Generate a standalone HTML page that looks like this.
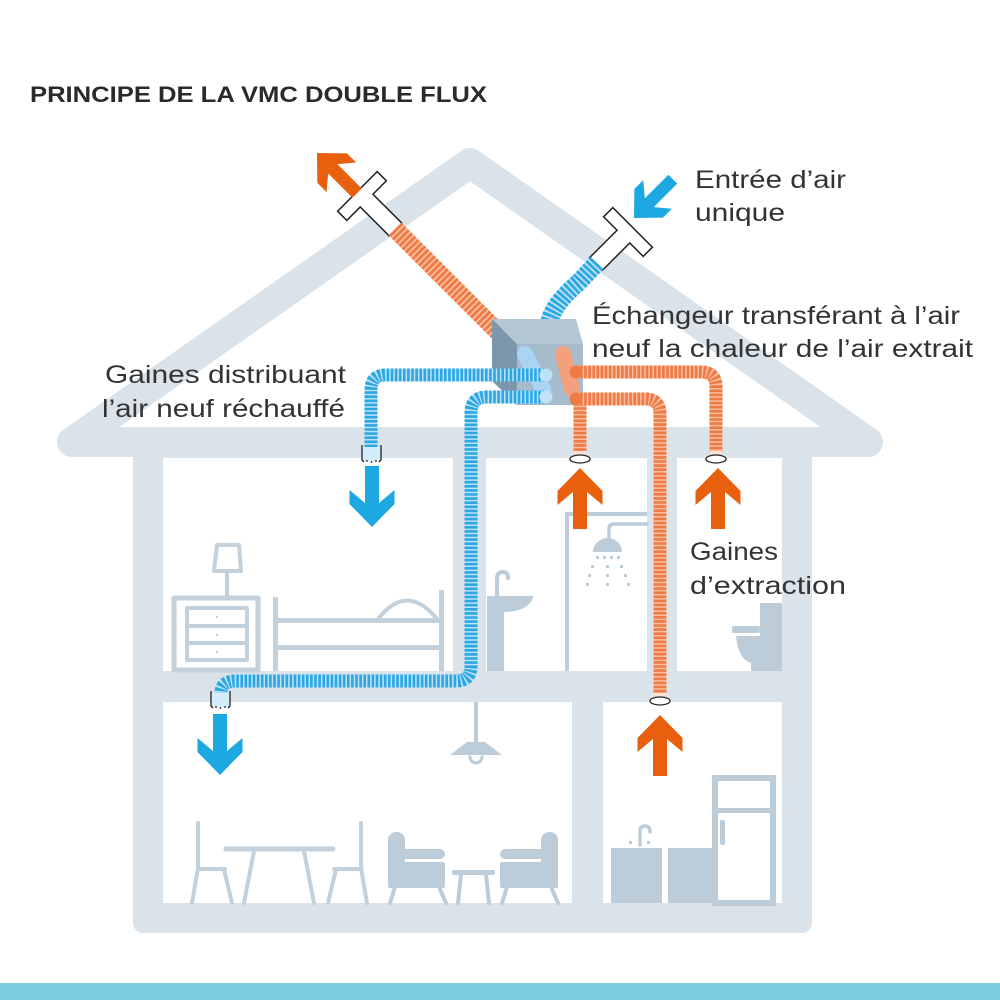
<!DOCTYPE html>
<html><head><meta charset="utf-8"><style>
html,body{margin:0;padding:0;background:#fff;}
svg{display:block;}
</style></head><body>
<svg width="1000" height="1000" viewBox="0 0 1000 1000" xmlns="http://www.w3.org/2000/svg">
<rect width="1000" height="1000" fill="#fff"/>

<!-- House structure -->
<polygon points="72,442 470,163 868,442" fill="none" stroke="#dae3ea" stroke-width="30" stroke-linejoin="round"/>
<rect x="133" y="442" width="679" height="491" rx="10" fill="#dae3ea"/>
<rect x="163" y="458" width="290" height="213" fill="#fff"/>
<rect x="486" y="458" width="161" height="213" fill="#fff"/>
<rect x="677" y="458" width="105" height="213" fill="#fff"/>
<rect x="163" y="702" width="409" height="201" fill="#fff"/>
<rect x="603" y="702" width="179" height="201" fill="#fff"/>

<!-- Bedroom furniture -->
<g fill="none" stroke="#c2d1dc" stroke-width="4" stroke-linejoin="round">
  <path d="M217,545 H239 L241,571 H214 Z"/>
  <rect x="174" y="598" width="84" height="72" stroke-width="5"/>
  <rect x="187" y="608" width="60" height="52"/>
  <path d="M187,626 H247 M187,643 H247"/>
  <path d="M378,619 Q407,582 437,619"/>
</g>
<g fill="#c2d1dc">
  <rect x="225" y="573" width="4" height="24"/>
  <rect x="273" y="597" width="5" height="74"/>
  <rect x="439" y="590" width="5" height="81"/>
  <rect x="273" y="618" width="171" height="5"/>
  <rect x="273" y="645" width="171" height="5"/>
</g>
<g fill="#e3c6c0">
  <circle cx="217" cy="617" r="1.2"/><circle cx="217" cy="635" r="1.2"/><circle cx="217" cy="652" r="1.2"/>
</g>

<!-- Bathroom -->
<g fill="#bccdd9">
  <path d="M487,596 H533 C532,606 520,612 504,612 V671 H487 Z"/>
  <rect x="565" y="512" width="4" height="159"/>
  <rect x="565" y="512" width="82" height="4"/>
  <path d="M593,552 A14.5,14 0 0 1 622,552 Z"/>
  <rect x="596" y="556" width="3" height="3"/><rect x="603" y="556" width="3" height="3"/><rect x="610" y="556" width="3" height="3"/><rect x="617" y="556" width="3" height="3"/>
  <rect x="591" y="565" width="3" height="3"/><rect x="606" y="565" width="3" height="3"/><rect x="620" y="565" width="3" height="3"/>
  <rect x="588" y="574" width="3" height="3"/><rect x="606" y="574" width="3" height="3"/><rect x="624" y="574" width="3" height="3"/>
  <rect x="586" y="583" width="3" height="3"/><rect x="606" y="583" width="3" height="3"/><rect x="627" y="583" width="3" height="3"/>
  <!-- WC -->
  <rect x="760" y="603" width="22" height="68"/>
  <rect x="732" y="626" width="28" height="7" rx="2"/>
  <path d="M736,636 H760 V671 H751 V663 Q738,659 736,636 Z"/>
</g>
<g fill="none" stroke="#bccdd9" stroke-width="4" stroke-linecap="round">
  <path d="M497,597 V579 Q497,572 503,572 Q508,572 508,578"/>
  <path d="M647,524 H614 Q609,524 609,529 V540" stroke-width="3.5"/>
</g>

<!-- Living room -->
<g fill="none" stroke="#c2d1dc" stroke-width="4" stroke-linecap="round" stroke-linejoin="round">
  <path d="M198,823 V868 L192,903"/>
  <path d="M198,869 H225"/>
  <path d="M224,869 L232,903"/>
  <path d="M361,823 V868 L367,903"/>
  <path d="M334,869 H361"/>
  <path d="M336,869 L328,903"/>
  <path d="M226,849 H333" stroke-width="5"/>
  <path d="M254,851 L244,903"/>
  <path d="M304,851 L314,903"/>
</g>
<g fill="#bccdd9">
  <rect x="388" y="832" width="17" height="56" rx="8"/>
  <rect x="388" y="849" width="57" height="10" rx="5"/>
  <rect x="388" y="862" width="57" height="26" rx="2"/>
  <rect x="541" y="832" width="17" height="56" rx="8"/>
  <rect x="500" y="849" width="58" height="10" rx="5"/>
  <rect x="500" y="862" width="58" height="26" rx="2"/>
  <rect x="452" y="870" width="43" height="5" rx="2"/>
  <rect x="474" y="702" width="4" height="40"/>
  <path d="M467,742 H485 L502,755 H450 Z"/>
  <!-- Kitchen -->
  <rect x="611" y="848" width="51" height="55"/>
  <rect x="668" y="848" width="49" height="55"/>
  <rect x="715" y="808" width="58" height="5"/>
  <rect x="720" y="820" width="5" height="25" rx="2"/>
  <rect x="629" y="841" width="3" height="3"/><rect x="647" y="841" width="3" height="3"/>
</g>
<g fill="none" stroke="#bccdd9" stroke-width="4" stroke-linecap="round">
  <path d="M395,887 L390,903 M439,887 L446,903"/>
  <path d="M507,887 L502,903 M551,887 L558,903"/>
  <path d="M461,874 L458,903 M486,874 L489,903"/>
  <path d="M470,757 A6,6 0 0 0 482,757" stroke-width="3"/>
  <rect x="715" y="778" width="58" height="125" stroke-width="6" stroke-linecap="butt"/>
  <path d="M640,845 V831 Q640,826 645,826 Q650,826 650,832" stroke-width="3.5"/>
</g>

<!-- T caps -->
<g transform="translate(362,196) rotate(-45)">
  <path d="M-9,48 V6.5 H-28 V-6.5 H28 V6.5 H9 V48" fill="#fff" stroke="#222" stroke-width="1.5" stroke-linejoin="miter"/>
</g>
<g transform="translate(628,232) rotate(45)">
  <path d="M-9,46 V6.5 H-28 V-6.5 H28 V6.5 H9 V46" fill="#fff" stroke="#222" stroke-width="1.5"/>
</g>

<!-- Diagonal ducts -->
<path d="M395,229 L500,334" fill="none" stroke="#f9bea0" stroke-width="18"/>
<path d="M395,229 L500,334" fill="none" stroke="#ee7a45" stroke-width="18" stroke-dasharray="2.8 1.8"/>
<path d="M597,263 L578,283 Q552,305 549,324" fill="none" stroke="#bfe2f6" stroke-width="18"/>
<path d="M597,263 L578,283 Q552,305 549,324" fill="none" stroke="#2ba7e4" stroke-width="18" stroke-dasharray="2.8 1.8"/>

<!-- Exchanger box -->
<polygon points="492,319 576,319 583,344 517,344" fill="#b4c7d5"/>
<rect x="517" y="344" width="66" height="61" fill="#a6bbcb"/>
<polygon points="492,319 517,344 517,405 492,381" fill="#7c97ab"/>
<path d="M525,354 L543,389" stroke="#a9d4f2" stroke-width="16" stroke-linecap="round"/>
<path d="M563,354 L572,389" stroke="#f4a07c" stroke-width="16" stroke-linecap="round"/>

<!-- Horizontal/vertical ducts: blue -->
<g fill="none" stroke-width="13">
  <path d="M545,375 H386 Q371,375 371,390 V447" stroke="#bfe2f6"/>
  <path d="M545,375 H386 Q371,375 371,390 V447" stroke="#2ba7e4" stroke-dasharray="2.6 1.5"/>
  <path d="M545,397 H487 Q471,397 471,413 V666 Q471,681 456,681 H236 Q221,681 221,696 V693" stroke="#bfe2f6"/>
  <path d="M545,397 H487 Q471,397 471,413 V666 Q471,681 456,681 H236 Q221,681 221,693" stroke="#2ba7e4" stroke-dasharray="2.6 1.5"/>
</g>
<circle cx="546" cy="375" r="6.5" fill="#bfe2f6"/>
<circle cx="546" cy="397" r="6.5" fill="#bfe2f6"/>
<!-- orange -->
<g fill="none" stroke-width="13">
  <path d="M576,372 H701 Q716,372 716,387 V452" stroke="#f9bea0"/>
  <path d="M576,372 H701 Q716,372 716,387 V452" stroke="#ee7a45" stroke-dasharray="2.6 1.5"/>
  <path d="M580,399 V452" stroke="#f9bea0"/>
  <path d="M580,399 V452" stroke="#ee7a45" stroke-dasharray="2.6 1.5"/>
  <path d="M576,399 H645 Q660,399 660,414 V694" stroke="#f9bea0"/>
  <path d="M576,399 H645 Q660,399 660,414 V694" stroke="#ee7a45" stroke-dasharray="2.6 1.5"/>
</g>
<circle cx="576" cy="372" r="6.5" fill="#ee7a45"/>
<circle cx="576" cy="399" r="6.5" fill="#ee7a45"/>

<!-- Vents -->
<g>
  <rect x="362" y="447" width="19" height="14" fill="#d3ecf9"/>
  <path d="M362,445 V460 L364,462 M381,445 V460 L379,462" fill="none" stroke="#222" stroke-width="1.3"/>
  <circle cx="367" cy="461" r="0.9" fill="#222"/><circle cx="371.5" cy="462" r="0.9" fill="#222"/><circle cx="376" cy="461" r="0.9" fill="#222"/>
  <rect x="211" y="693" width="19" height="14" fill="#d3ecf9"/>
  <path d="M211,691 V706 L213,708 M230,691 V706 L228,708" fill="none" stroke="#222" stroke-width="1.3"/>
  <circle cx="216" cy="707" r="0.9" fill="#222"/><circle cx="220.5" cy="708" r="0.9" fill="#222"/><circle cx="225" cy="707" r="0.9" fill="#222"/>
</g>
<g fill="#fff" stroke="#222" stroke-width="1.3">
  <rect x="574" y="451" width="12" height="7" fill="#fde2d4" stroke="none"/>
  <ellipse cx="580" cy="459" rx="10" ry="4"/>
  <rect x="710" y="451" width="12" height="7" fill="#fde2d4" stroke="none"/>
  <ellipse cx="716" cy="459" rx="10" ry="4"/>
  <rect x="654" y="693" width="12" height="7" fill="#fde2d4" stroke="none"/>
  <ellipse cx="660" cy="701" rx="10" ry="4"/>
</g>

<!-- Arrows -->
<defs>
  <path id="arr" d="M0,0 L22.5,23 L22.5,37 L7,24 L7,61 L-7,61 L-7,24 L-22.5,37 L-22.5,23 Z"/>
</defs>
<g fill="#1da8e2">
  <use href="#arr" transform="translate(372,527) rotate(180)"/>
  <use href="#arr" transform="translate(220,775) rotate(180)"/>
  <use href="#arr" transform="translate(634,218) rotate(-135) scale(0.9)"/>
</g>
<g fill="#e8600e">
  <use href="#arr" transform="translate(580,468)"/>
  <use href="#arr" transform="translate(718,468)"/>
  <use href="#arr" transform="translate(660,715)"/>
  <use href="#arr" transform="translate(317,153) rotate(-45) scale(0.93)"/>
</g>

<!-- Text -->
<text x="30" y="102" font-family="Liberation Sans, sans-serif" font-weight="bold" font-size="22" fill="#2a2a2a" textLength="457" lengthAdjust="spacingAndGlyphs">PRINCIPE DE LA VMC DOUBLE FLUX</text>
<g font-family="Liberation Sans, sans-serif" font-size="25" fill="#333">
  <text x="695" y="188" textLength="151" lengthAdjust="spacingAndGlyphs">Entrée d’air</text>
  <text x="695" y="221" textLength="90" lengthAdjust="spacingAndGlyphs">unique</text>
  <text x="592" y="324" textLength="368" lengthAdjust="spacingAndGlyphs">Échangeur transférant à l’air</text>
  <text x="592" y="357" textLength="381" lengthAdjust="spacingAndGlyphs">neuf la chaleur de l’air extrait</text>
  <text x="105" y="383" textLength="241" lengthAdjust="spacingAndGlyphs">Gaines distribuant</text>
  <text x="102" y="417" textLength="243" lengthAdjust="spacingAndGlyphs">l’air neuf réchauffé</text>
  <text x="690" y="560" textLength="88" lengthAdjust="spacingAndGlyphs">Gaines</text>
  <text x="690" y="594" textLength="156" lengthAdjust="spacingAndGlyphs">d’extraction</text>
</g>

<!-- Bottom bar -->
<rect x="0" y="983" width="1000" height="17" fill="#7ccde0"/>
</svg>
</body></html>
